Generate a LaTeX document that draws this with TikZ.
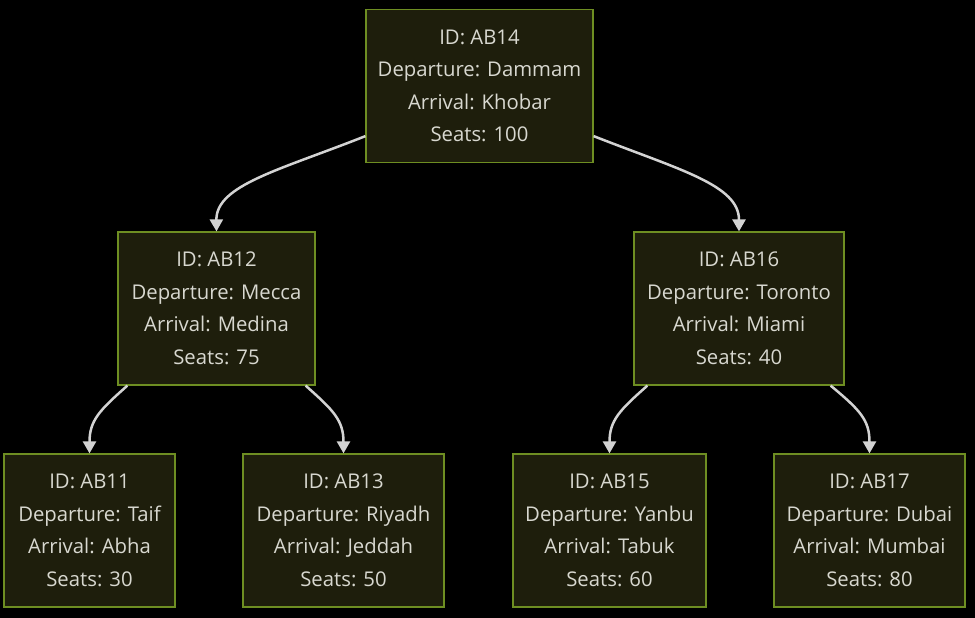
\documentclass[tikz,border=0pt]{standalone}
\usepackage{fontspec}
\setmainfont{Open Sans}
\usetikzlibrary{calc,arrows.meta}
\definecolor{bx}{HTML}{1E1E0C}
\definecolor{bd}{HTML}{6E8E22}
\definecolor{tx}{HTML}{D8D8D0}
\definecolor{ln}{HTML}{D3D3D3}
\begin{document}
\begin{tikzpicture}[x=1pt,y=-1pt,
  box/.style={draw=bd,fill=bx,line width=1.2pt,text=tx,align=center,inner sep=0pt,
    font=\fontsize{20.3}{32.5}\selectfont,minimum height=153pt},
  edge/.style={draw=ln,line width=2.5pt,-{Triangle[length=12pt,width=13pt]}}]
\fill[black] (0,0) rectangle (975,618);
\useasboundingbox (0,0) rectangle (975,618);
\node[box,minimum width=227pt] (n14) at (479.5,86) {ID: AB14\\Departure: Dammam\\Arrival: Khobar\\Seats: 100};
\node[box,minimum width=197pt] (n12) at (216.5,308.5) {ID: AB12\\Departure: Mecca\\Arrival: Medina\\Seats: 75};
\node[box,minimum width=210pt] (n16) at (739,308.5) {ID: AB16\\Departure: Toronto\\Arrival: Miami\\Seats: 40};
\node[box,minimum width=171pt] (n11) at (89.5,530.5) {ID: AB11\\Departure: Taif\\Arrival: Abha\\Seats: 30};
\node[box,minimum width=201pt] (n13) at (343.5,530.5) {ID: AB13\\Departure: Riyadh\\Arrival: Jeddah\\Seats: 50};
\node[box,minimum width=193pt] (n15) at (609.5,530.5) {ID: AB15\\Departure: Yanbu\\Arrival: Tabuk\\Seats: 60};
\node[box,minimum width=191pt] (n17) at (869.5,530.5) {ID: AB17\\Departure: Dubai\\Arrival: Mumbai\\Seats: 80};
\draw[edge] ($(n14.south west)+(0,-27)$) .. controls (280,170) and (216,185) .. (n12.north);
\draw[edge] ($(n14.south east)+(0,-27)$) .. controls (680,170) and (739,185) .. (n16.north);
\draw[edge] ($(n12.south west)+(10,0)$) .. controls (100,410) and (89.5,420) .. (n11.north);
\draw[edge] ($(n12.south east)+(-10,0)$) .. controls (333,410) and (343.5,420) .. (n13.north);
\draw[edge] ($(n16.south west)+(14,0)$) .. controls (620,410) and (609.5,420) .. (n15.north);
\draw[edge] ($(n16.south east)+(-14,0)$) .. controls (860,410) and (869.5,420) .. (n17.north);
\end{tikzpicture}
\end{document}
